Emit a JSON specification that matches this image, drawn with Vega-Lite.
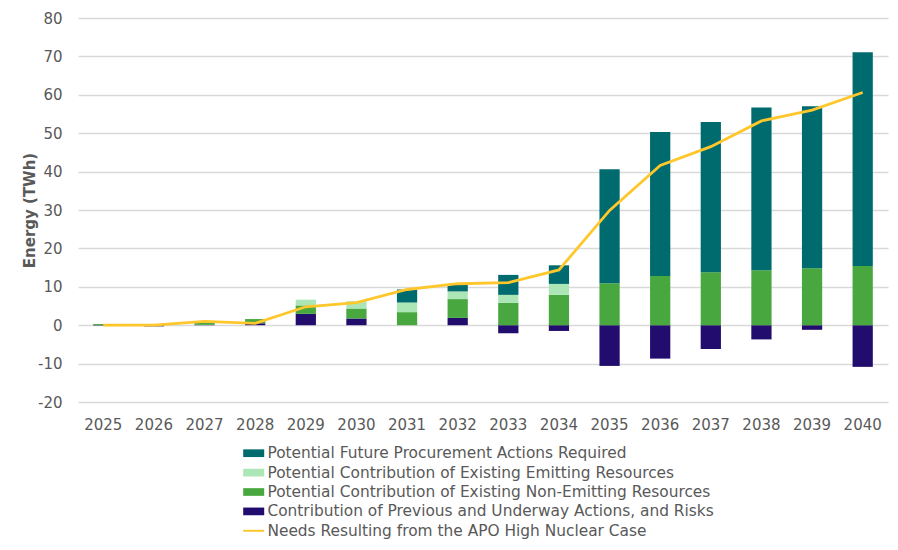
{
  "$schema": "https://vega.github.io/schema/vega-lite/v6.json",
  "width": 810,
  "height": 384,
  "autosize": {"type": "none"},
  "padding": {"left": 78, "top": 18, "right": 10, "bottom": 148},
  "background": "white",
  "config": {
    "view": {"stroke": null},
    "font": "DejaVu Sans",
    "axis": {"labelColor": "#595959", "labelFontSize": 15, "gridColor": "#D9D9D9", "gridWidth": 1.3, "domain": false, "ticks": false}
  },
  "data": {
    "values": [
      {"year": "2025", "series": "Contribution of Previous and Underway Actions, and Risks", "value": -0.1},
      {"year": "2025", "series": "Potential Contribution of Existing Non-Emitting Resources", "value": 0.3},
      {"year": "2026", "series": "Contribution of Previous and Underway Actions, and Risks", "value": -0.3},
      {"year": "2027", "series": "Contribution of Previous and Underway Actions, and Risks", "value": 0.1},
      {"year": "2027", "series": "Potential Contribution of Existing Non-Emitting Resources", "value": 0.7},
      {"year": "2028", "series": "Contribution of Previous and Underway Actions, and Risks", "value": 0.5},
      {"year": "2028", "series": "Potential Contribution of Existing Non-Emitting Resources", "value": 1.1},
      {"year": "2029", "series": "Contribution of Previous and Underway Actions, and Risks", "value": 2.95},
      {"year": "2029", "series": "Potential Contribution of Existing Non-Emitting Resources", "value": 2.2},
      {"year": "2029", "series": "Potential Contribution of Existing Emitting Resources", "value": 1.5},
      {"year": "2030", "series": "Contribution of Previous and Underway Actions, and Risks", "value": 1.75},
      {"year": "2030", "series": "Potential Contribution of Existing Non-Emitting Resources", "value": 2.6},
      {"year": "2030", "series": "Potential Contribution of Existing Emitting Resources", "value": 1.9},
      {"year": "2031", "series": "Potential Contribution of Existing Non-Emitting Resources", "value": 3.4},
      {"year": "2031", "series": "Potential Contribution of Existing Emitting Resources", "value": 2.5},
      {"year": "2031", "series": "Potential Future Procurement Actions Required", "value": 3.4},
      {"year": "2032", "series": "Contribution of Previous and Underway Actions, and Risks", "value": 1.9},
      {"year": "2032", "series": "Potential Contribution of Existing Non-Emitting Resources", "value": 4.9},
      {"year": "2032", "series": "Potential Contribution of Existing Emitting Resources", "value": 2.0},
      {"year": "2032", "series": "Potential Future Procurement Actions Required", "value": 1.9},
      {"year": "2033", "series": "Contribution of Previous and Underway Actions, and Risks", "value": -2.1},
      {"year": "2033", "series": "Potential Contribution of Existing Non-Emitting Resources", "value": 5.8},
      {"year": "2033", "series": "Potential Contribution of Existing Emitting Resources", "value": 2.1},
      {"year": "2033", "series": "Potential Future Procurement Actions Required", "value": 5.2},
      {"year": "2034", "series": "Contribution of Previous and Underway Actions, and Risks", "value": -1.5},
      {"year": "2034", "series": "Potential Contribution of Existing Non-Emitting Resources", "value": 7.9},
      {"year": "2034", "series": "Potential Contribution of Existing Emitting Resources", "value": 2.85},
      {"year": "2034", "series": "Potential Future Procurement Actions Required", "value": 4.85},
      {"year": "2035", "series": "Contribution of Previous and Underway Actions, and Risks", "value": -10.6},
      {"year": "2035", "series": "Potential Contribution of Existing Non-Emitting Resources", "value": 10.9},
      {"year": "2035", "series": "Potential Future Procurement Actions Required", "value": 29.7},
      {"year": "2036", "series": "Contribution of Previous and Underway Actions, and Risks", "value": -8.7},
      {"year": "2036", "series": "Potential Contribution of Existing Non-Emitting Resources", "value": 12.8},
      {"year": "2036", "series": "Potential Future Procurement Actions Required", "value": 37.5},
      {"year": "2037", "series": "Contribution of Previous and Underway Actions, and Risks", "value": -6.2},
      {"year": "2037", "series": "Potential Contribution of Existing Non-Emitting Resources", "value": 13.8},
      {"year": "2037", "series": "Potential Future Procurement Actions Required", "value": 39.1},
      {"year": "2038", "series": "Contribution of Previous and Underway Actions, and Risks", "value": -3.7},
      {"year": "2038", "series": "Potential Contribution of Existing Non-Emitting Resources", "value": 14.3},
      {"year": "2038", "series": "Potential Future Procurement Actions Required", "value": 42.4},
      {"year": "2039", "series": "Contribution of Previous and Underway Actions, and Risks", "value": -1.2},
      {"year": "2039", "series": "Potential Contribution of Existing Non-Emitting Resources", "value": 14.8},
      {"year": "2039", "series": "Potential Future Procurement Actions Required", "value": 42.2},
      {"year": "2040", "series": "Contribution of Previous and Underway Actions, and Risks", "value": -10.85},
      {"year": "2040", "series": "Potential Contribution of Existing Non-Emitting Resources", "value": 15.4},
      {"year": "2040", "series": "Potential Future Procurement Actions Required", "value": 55.7},
      {"year": "2025", "series": "Needs Resulting from the APO High Nuclear Case", "value": 0},
      {"year": "2026", "series": "Needs Resulting from the APO High Nuclear Case", "value": 0},
      {"year": "2027", "series": "Needs Resulting from the APO High Nuclear Case", "value": 1.0},
      {"year": "2028", "series": "Needs Resulting from the APO High Nuclear Case", "value": 0.5},
      {"year": "2029", "series": "Needs Resulting from the APO High Nuclear Case", "value": 4.8},
      {"year": "2030", "series": "Needs Resulting from the APO High Nuclear Case", "value": 5.9},
      {"year": "2031", "series": "Needs Resulting from the APO High Nuclear Case", "value": 9.3},
      {"year": "2032", "series": "Needs Resulting from the APO High Nuclear Case", "value": 10.8},
      {"year": "2033", "series": "Needs Resulting from the APO High Nuclear Case", "value": 11.1},
      {"year": "2034", "series": "Needs Resulting from the APO High Nuclear Case", "value": 14.4},
      {"year": "2035", "series": "Needs Resulting from the APO High Nuclear Case", "value": 29.9},
      {"year": "2036", "series": "Needs Resulting from the APO High Nuclear Case", "value": 41.6},
      {"year": "2037", "series": "Needs Resulting from the APO High Nuclear Case", "value": 46.5},
      {"year": "2038", "series": "Needs Resulting from the APO High Nuclear Case", "value": 53.2},
      {"year": "2039", "series": "Needs Resulting from the APO High Nuclear Case", "value": 56.0},
      {"year": "2040", "series": "Needs Resulting from the APO High Nuclear Case", "value": 60.6}
    ]
  },
  "encoding": {
    "x": {
      "field": "year",
      "type": "ordinal",
      "scale": {"paddingInner": 0.6, "paddingOuter": 0.3},
      "axis": {"title": null, "labelAngle": 0, "labelPadding": 15, "grid": false}
    },
    "y": {
      "field": "value",
      "type": "quantitative",
      "scale": {"domain": [-20, 80], "nice": false},
      "axis": {
        "title": "Energy (TWh)",
        "titleFontSize": 15,
        "titleFontWeight": "bold",
        "titleColor": "#595959",
        "titlePadding": 0,
        "labelPadding": 16,
        "labelExpr": "'' + datum.value",
        "values": [-20, -10, 0, 10, 20, 30, 40, 50, 60, 70, 80]
      }
    }
  },
  "layer": [
    {
      "transform": [
        {"filter": "datum.series !== 'Needs Resulting from the APO High Nuclear Case'"},
        {"calculate": "indexof(['Contribution of Previous and Underway Actions, and Risks', 'Potential Contribution of Existing Non-Emitting Resources', 'Potential Contribution of Existing Emitting Resources', 'Potential Future Procurement Actions Required'], datum.series)", "as": "stackOrder"}
      ],
      "mark": {"type": "bar"},
      "encoding": {
        "y": {"field": "value", "type": "quantitative", "stack": "zero"},
        "order": {"field": "stackOrder", "type": "quantitative", "sort": "ascending"},
        "color": {
          "field": "series",
          "type": "nominal",
          "scale": {
            "domain": [
              "Contribution of Previous and Underway Actions, and Risks",
              "Potential Contribution of Existing Non-Emitting Resources",
              "Potential Contribution of Existing Emitting Resources",
              "Potential Future Procurement Actions Required",
              "Needs Resulting from the APO High Nuclear Case"
            ],
            "range": ["#220C6E", "#48A83F", "#ACE6B6", "#006B6E", "#FFC72C"]
          },
          "legend": {
            "title": null,
            "orient": "none",
            "legendX": 168,
            "legendY": 427.5,
            "padding": 0,
            "values": [
              "Potential Future Procurement Actions Required",
              "Potential Contribution of Existing Emitting Resources",
              "Potential Contribution of Existing Non-Emitting Resources",
              "Contribution of Previous and Underway Actions, and Risks",
              "Needs Resulting from the APO High Nuclear Case"
            ],
            "labelFontSize": 15.4,
            "labelColor": "#595959",
            "labelLimit": 700,
            "labelOffset": 6,
            "symbolSize": 196,
            "symbolStrokeWidth": 0,
            "rowPadding": 2.4,
            "encode": {
              "symbols": {
                "update": {
                  "shape": {"signal": "datum.value === 'Needs Resulting from the APO High Nuclear Case' ? 'M-1.5,-0.14H1.5V0.14H-1.5Z' : 'M-1.5,-0.55H1.5V0.55H-1.5Z'"}
                }
              }
            }
          }
        }
      }
    },
    {
      "transform": [{"filter": "datum.series === 'Needs Resulting from the APO High Nuclear Case'"}],
      "mark": {"type": "line", "color": "#FFC72C", "strokeWidth": 2.8},
      "encoding": {}
    }
  ]
}
